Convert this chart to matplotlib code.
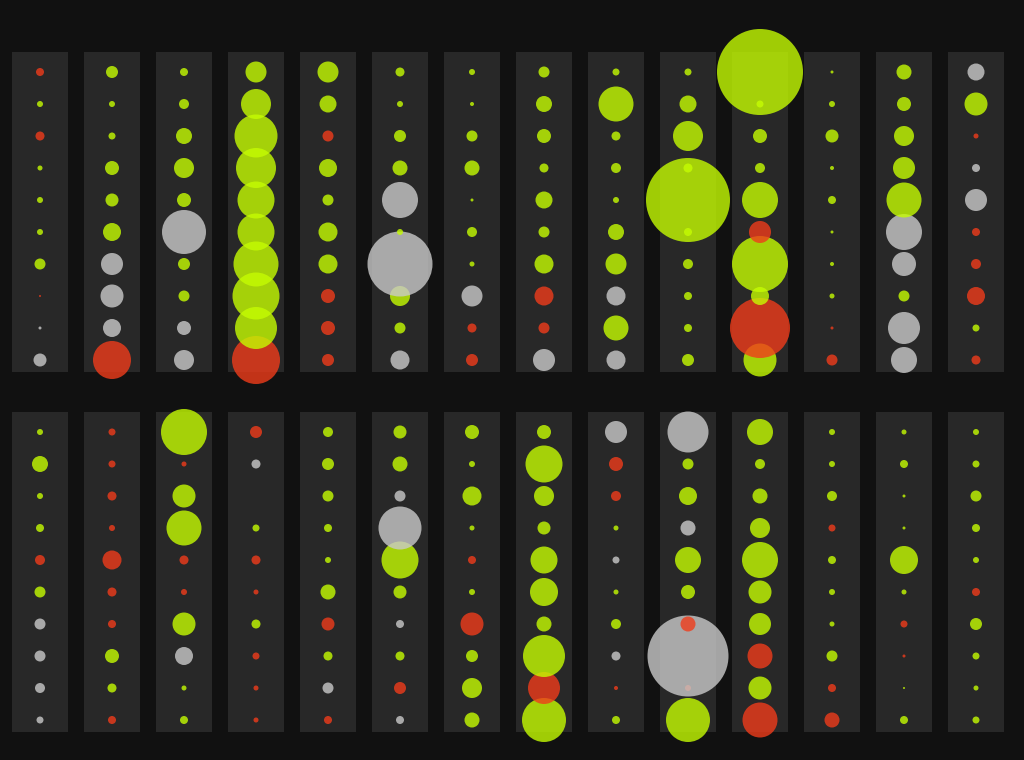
import matplotlib
matplotlib.use("Agg")
import matplotlib.pyplot as plt
from matplotlib.patches import Circle, Rectangle

# colour codes per column, rows top to bottom: g = green, r = red, s = grey
top_colors = [
    "rgrggggrss", "ggggggsssr", "gggggsggss", "gggggggggr",
    "ggrggggrrr", "ggggsgsggs", "gggggggsrr", "gggggggrrs",
    "gggggggsgs", "gggggggggg", "gggggrggrg", "ggggggggrr",
    "gggggssgss", "sgrssrrrgr",
]
top_radius = [
    [4, 3, 4.5, 2.5, 3, 3, 5.5, 1, 1.5, 6.5],
    [6, 3, 3.5, 7, 6.5, 9, 11, 11.5, 9, 19],
    [4, 5, 8, 10, 7, 22, 6, 5.5, 7, 10],
    [10.5, 15, 21.5, 20, 18.5, 18.5, 22.5, 23.5, 21, 24],
    [10.5, 8.5, 5.5, 9, 5.5, 9.5, 9.5, 7, 7, 6],
    [4.5, 3, 6, 7.5, 18, 3, 32.5, 10, 5.5, 9.5],
    [3, 2, 5.5, 7.5, 1.5, 5, 2.5, 10.5, 4.5, 6],
    [5.5, 8, 7, 4.5, 8.5, 5.5, 9.5, 9.5, 5.5, 11],
    [3.5, 17.5, 4.5, 5, 3, 8, 10.5, 9.5, 12.5, 9.5],
    [3.5, 8.5, 15, 4.5, 42, 4, 5, 4, 4, 6],
    [43, 3.5, 7, 5, 18, 11, 28, 9, 30, 16.5],
    [1.5, 3, 6.5, 2, 4, 1.5, 2, 2.5, 1.5, 5.5],
    [7.5, 7, 10, 11, 17.5, 18, 12, 5.5, 16, 13],
    [8.5, 11.5, 2.5, 4, 11, 4, 5, 9, 3.5, 4.5],
]

bottom_colors = [
    "ggggrgssss", "rrrrrrrggr", "grggrrgsgg", "rsggrrgrrr",
    "ggggggrgsr", "ggssggsgrs", "ggggrgrggg", "ggggggggrg",
    "srrgsggsrg", "sggsggrsrg", "gggggggrgr", "gggrggggrr",
    "ggggggrrgg", "gggggrgggg",
]
bottom_radius = [
    [3, 8, 3, 4, 5, 5.5, 5.5, 5.5, 5, 3.5],
    [3.5, 3.5, 4.5, 3, 9.5, 4.5, 4, 7, 4.5, 4],
    [23, 2.5, 11.5, 17.5, 4.5, 3, 11.5, 9, 2.5, 4],
    [6, 4.5, 0, 3.5, 4.5, 2.5, 4.5, 3.5, 2.5, 2.5],
    [5, 6, 5.5, 4, 3, 7.5, 6.5, 4.5, 5.5, 4],
    [6.5, 7.5, 5.5, 21.5, 18.5, 6.5, 4, 4.5, 6, 4],
    [7, 3, 9.5, 2.5, 4, 3, 11.5, 6, 10, 7.5],
    [7, 18.5, 10, 6.5, 13.5, 14, 7.5, 21, 16, 22],
    [11, 7, 5, 2.5, 3.5, 2.5, 5, 4.5, 2, 4],
    [20.5, 5.5, 9, 7.5, 13, 7, 7.5, 40.5, 3, 22],
    [13, 5, 7.5, 10, 18, 11.5, 11, 12.5, 11.5, 17.5],
    [3, 3, 5, 3.5, 4, 3, 2.5, 5.5, 4, 7.5],
    [2.5, 4, 1.5, 1.5, 14, 2.5, 3.5, 1.5, 1, 4],
    [3, 3.5, 5.5, 4, 3, 4, 6, 3.5, 2.5, 3.5],
]

palette = {"g": "#c5fc02", "r": "#f03c1b", "s": "#cacaca"}
bg = "#111111"
panel = "#282828"

fig = plt.figure(figsize=(10.24, 7.6), dpi=100, facecolor=bg)
ax = fig.add_axes([0, 0, 1, 1])
ax.set_facecolor(bg)
ax.set_xlim(0, 1024)
ax.set_ylim(760, 0)
ax.axis("off")

col_x0, col_dx, col_w = 40, 72, 56
row_dy = 32


def draw_block(colors, radius, y_first):
    for i, (cols, rads) in enumerate(zip(colors, radius)):
        cx = col_x0 + col_dx * i
        ax.add_patch(Rectangle((cx - col_w / 2, y_first - 20), col_w, 320,
                               facecolor=panel, edgecolor="none", zorder=1))
        # circles are stacked from the bottom row upwards
        for j in reversed(range(len(cols))):
            r = rads[j]
            if r <= 0:
                continue
            ax.add_patch(Circle((cx, y_first + row_dy * j), r,
                                facecolor=palette[cols[j]], edgecolor="none",
                                alpha=0.8, zorder=2))


draw_block(top_colors, top_radius, 72)
draw_block(bottom_colors, bottom_radius, 432)

fig.savefig("out.png", dpi=100, facecolor=bg)
